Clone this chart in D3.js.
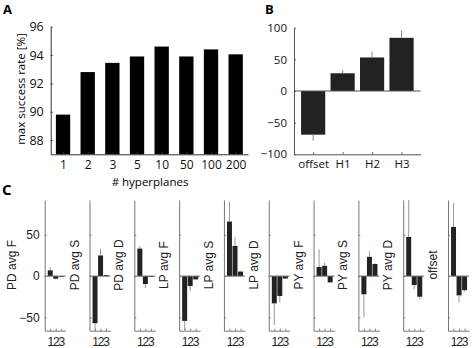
<!DOCTYPE html>
<html>
<head>
<meta charset="utf-8">
<script src="https://cdn.jsdelivr.net/npm/d3@7"></script>
<style>
  body { margin: 0; background: #fff; }
  svg { display: block; }
</style>
</head>
<body>
<svg id="fig" width="474" height="348"></svg>
<script>
// panel A
const hyperplanes = ["1", "2", "3", "5", "10", "50", "100", "200"];
const successRate = [89.8, 92.8, 93.45, 93.9, 94.6, 93.9, 94.4, 94.05];
const rateTicks = [88, 90, 92, 94, 96];

// panel B
const weightNames = ["offset", "H1", "H2", "H3"];
const weightMean = [-69, 28, 53, 84];
const weightErr = [9.5, 5, 9.5, 11.5];
const weightTicks = [-100, -50, 0, 50, 100];

// panel C
const featureNames = ["PD avg F", "PD avg S", "PD avg D", "LP avg F", "LP avg S",
  "LP avg D", "PY avg F", "PY avg S", "PY avg D", "offset"];
const featureMean = [
  [7, -3.2, -0.8], [-57, 25, 1.2], [33.3, -9.6, -1], [-54.2, -12, -4], [66, 36.5, 5.5],
  [-33, -24, -3], [11, 12.4, -7.6], [-22, 23.3, 14.6], [47.4, -10.8, -25], [59.4, -23.3, -17]
];
const featureErr = [
  [3.5, 1, 0.3], [12, 8, 0.5], [3.2, 5, 0.3], [11, 6, 1], [24, 11, 1],
  [26, 8, 0.5], [21.5, 4, 0.5], [28, 6.7, 1], [46, 5, 3], [29, 8.5, 2]
];
const featureTicks = [-50, 0, 50];
const hIdx = [1, 2, 3];

const svg = d3.select("svg#fig");
const fontAB = "'Open Sans', sans-serif";
const fontC = "'Liberation Sans', Arial, sans-serif";

// panel letters
svg.append("text").attr("x", 3).attr("y", 14).text("A")
  .style("font", `bold 13px ${fontAB}`);
svg.append("text").attr("x", 265).attr("y", 14).text("B")
  .style("font", `bold 13px ${fontAB}`);
svg.append("text").attr("x", 2).attr("y", 195).text("C")
  .style("font", `bold 15px ${fontAB}`);

//---------------- panel A
const ax = d3.scaleLinear().domain([0.5, 8.5]).range([50.7, 248]);
const ay = d3.scaleLinear().domain([87, 96]).range([154.3, 26.7]);
const stepA = ax(2) - ax(1);

const gA = svg.append("g");
gA.selectAll("rect").data(successRate).enter().append("rect")
  .attr("x", (d, i) => ax(i + 1) - stepA * 0.29)
  .attr("width", stepA * 0.58)
  .attr("y", d => ay(d))
  .attr("height", d => ay(87) - ay(d))
  .attr("fill", "#000");

const yAxisA = gA.append("g").attr("transform", `translate(${ax(0.5)},0)`)
  .call(d3.axisLeft(ay).tickValues(rateTicks).tickSizeInner(-2).tickSizeOuter(0).tickPadding(7));
const xAxisA = gA.append("g").attr("transform", `translate(0,${ay(87)})`)
  .call(d3.axisBottom(ax).tickValues(d3.range(1, 9)).tickFormat((d, i) => hyperplanes[i])
    .tickSizeInner(-2).tickSizeOuter(0).tickPadding(6));
[yAxisA, xAxisA].forEach(a => {
  a.selectAll("path, line").attr("stroke", "#333");
  a.selectAll("text").style("font", `12px ${fontAB}`).attr("fill", "#111");
});
yAxisA.selectAll("text").style("font-size", "12.5px");

gA.append("text").attr("x", 150).attr("y", 186).attr("text-anchor", "middle")
  .text("# hyperplanes").style("font", `11.5px ${fontAB}`);
gA.append("text").attr("transform", "translate(25,89) rotate(-90)").attr("text-anchor", "middle")
  .text("max success rate [%]").style("font", `11.5px ${fontAB}`);

//---------------- panel B
const bx = d3.scaleLinear().domain([0.35, 4.65]).range([294, 420.7]);
const by = d3.scaleLinear().domain([-100, 100]).range([154.3, 27.7]);
const stepB = bx(2) - bx(1);

const gB = svg.append("g");
gB.selectAll("rect").data(weightMean).enter().append("rect")
  .attr("x", (d, i) => bx(i + 1) - stepB * 0.41)
  .attr("width", stepB * 0.82)
  .attr("y", d => by(Math.max(0, d)))
  .attr("height", d => Math.abs(by(d) - by(0)))
  .attr("fill", "#222");
gB.selectAll("line.err").data(weightMean).enter().append("line")
  .attr("class", "err")
  .attr("x1", (d, i) => bx(i + 1)).attr("x2", (d, i) => bx(i + 1))
  .attr("y1", d => by(d))
  .attr("y2", (d, i) => by(d + Math.sign(d) * weightErr[i]))
  .attr("stroke", "#888").attr("stroke-width", 1);
gB.append("line").attr("x1", bx(0.35)).attr("x2", bx(4.65))
  .attr("y1", by(0)).attr("y2", by(0)).attr("stroke", "#555");

const yAxisB = gB.append("g").attr("transform", `translate(${bx(0.35)},0)`)
  .call(d3.axisLeft(by).tickValues(weightTicks).tickSizeInner(-2).tickSizeOuter(0).tickPadding(7));
const xAxisB = gB.append("g").attr("transform", `translate(0,${by(-100)})`)
  .call(d3.axisBottom(bx).tickValues([1, 2, 3, 4]).tickFormat((d, i) => weightNames[i])
    .tickSizeInner(-2).tickSizeOuter(0).tickPadding(6));
[yAxisB, xAxisB].forEach(a => {
  a.selectAll("path, line").attr("stroke", "#555");
  a.selectAll("text").style("font", `11.5px ${fontAB}`).attr("fill", "#111");
});

//---------------- panel C
const cpos = d3.scalePoint().domain(featureNames).range([44.7, 448]);
const cy = d3.scaleLinear().domain([-66, 92]).range([330.7, 200]);
const cw = 21;

featureNames.forEach((name, k) => {
  const x0 = cpos(name);
  const cx = d3.scaleLinear().domain([0, 3.8]).range([x0, x0 + cw]);
  const step = cx(1) - cx(0);
  const g = svg.append("g");

  g.selectAll("rect").data(featureMean[k]).enter().append("rect")
    .attr("x", (d, i) => cx(i + 1) - step * 0.45)
    .attr("width", step * 0.9)
    .attr("y", d => cy(Math.max(0, d)))
    .attr("height", d => Math.max(0.8, Math.abs(cy(d) - cy(0))))
    .attr("fill", "#222");

  g.selectAll("line.err").data(featureMean[k]).enter().append("line")
    .attr("class", "err")
    .attr("x1", (d, i) => cx(i + 1)).attr("x2", (d, i) => cx(i + 1))
    .attr("y1", d => cy(d))
    .attr("y2", (d, i) => cy(Math.max(-66, Math.min(92, d + Math.sign(d) * featureErr[k][i]))))
    .attr("stroke", "#999").attr("stroke-width", 1);

  g.append("line").attr("x1", x0).attr("x2", x0 + cw)
    .attr("y1", cy(0)).attr("y2", cy(0)).attr("stroke", "#666");

  const yAxis = g.append("g").attr("transform", `translate(${x0},0)`)
    .call(d3.axisLeft(cy).tickValues(featureTicks)
      .tickFormat(k === 0 ? d3.format("d") : () => "")
      .tickSizeInner(-2).tickSizeOuter(0).tickPadding(5));
  const xAxis = g.append("g").attr("transform", `translate(0,${cy(-66)})`)
    .call(d3.axisBottom(cx).tickValues(hIdx).tickFormat(d3.format("d"))
      .tickSizeInner(-2).tickSizeOuter(0).tickPadding(7));
  [yAxis, xAxis].forEach(a => {
    a.select("path.domain").attr("stroke", "#777");
    a.selectAll("line").attr("stroke", "#777");
    a.selectAll("text").style("font", `12px ${fontC}`).attr("fill", "#222");
  });

  g.append("text")
    .attr("transform", `translate(${k === 0 ? x0 - 28.5 : x0 - 11},265) rotate(-90)`)
    .attr("text-anchor", "middle")
    .text(name)
    .style("font", `12px ${fontC}`).attr("fill", "#222");
});
</script>
</body>
</html>
